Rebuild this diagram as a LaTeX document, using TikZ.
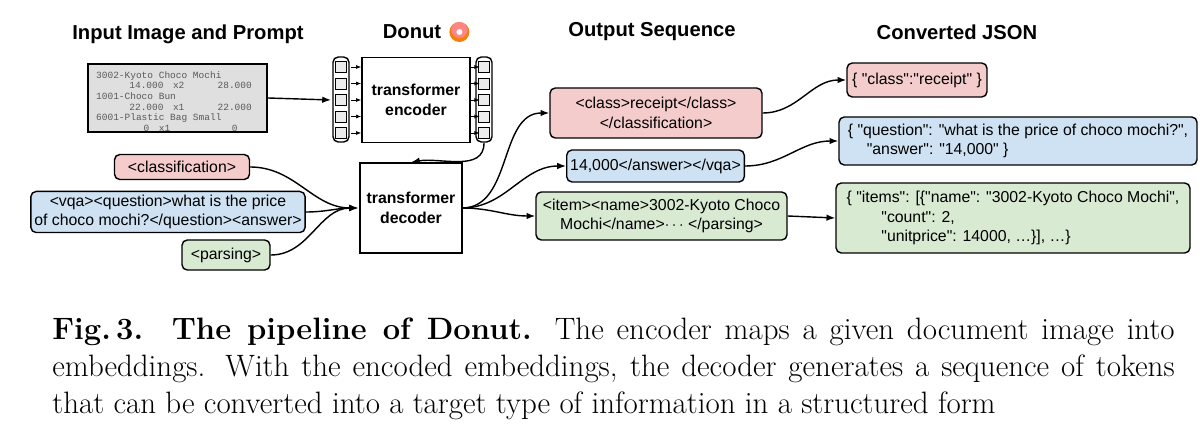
\documentclass[tikz,border=0pt]{standalone}
\usepackage{fontspec}
\setmainfont{Latin Modern Roman}
\newfontfamily\sans{Liberation Sans}
\newfontfamily\mono{Liberation Mono}
\usetikzlibrary{positioning,arrows.meta}
\definecolor{redbox}{HTML}{F4CCCC}
\definecolor{bluebox}{HTML}{CFE2F3}
\definecolor{greenbox}{HTML}{D9EAD3}
\tikzset{
  tag/.style={draw, thick, rounded corners=3pt, align=center, font=\sans\fontsize{9}{11}\selectfont, inner sep=2pt},
  title/.style={font=\sans\bfseries\fontsize{11.5}{13}\selectfont},
  blk/.style={draw, thick, fill=white, align=center, font=\sans\bfseries\fontsize{9}{11}\selectfont},
  flow/.style={thick, -{Latex[length=5pt]}},
}
\begin{document}
\begin{tikzpicture}[x=0.02cm, y=-0.02cm]
  \useasboundingbox (0,0) rectangle (1200,438);
  % Titles
  \node[title] (tin) at (188,34) {Input Image and Prompt};
  \node[title] (tdon) at (412,32) {Donut};
  \fill[orange!80!brown] (tdon.east) ++(12,0) circle (10);
  \fill[pink!70!red] (tdon.east) ++(12,-2) circle (8);
  \fill[white] (tdon.east) ++(12,0) circle (3);
  \node[title] (tout) at (652,32) {Output Sequence};
  \node[title] (tjson) at (957,32) {Converted JSON};

  % Receipt image
  \node[draw, very thick, fill=gray!25, minimum width=179*0.02cm, minimum height=68*0.02cm,
        inner sep=0pt] (img) at (177.5,98) {};
  \node[font=\mono\fontsize{5.4}{6.1}\selectfont, align=left, text=gray!70!black, anchor=north west]
    at (90,65) {3002-Kyoto Choco Mochi\\
    \hspace*{3.5em}14.000\quad x2\hspace{3.5em}28.000\\
    1001-Choco Bun\\
    \hspace*{3.5em}22.000\quad x1\hspace{3.5em}22.000\\
    6001-Plastic Bag Small\\
    \hspace*{5em}0\quad x1\hspace{6.5em}0};

  % Encoder
  \node[blk, minimum width=108*0.02cm, minimum height=85*0.02cm] (enc) at (416,100) {transformer\\encoder};
  \foreach \s/\x in {L/341, R/484} {
    \draw[thick, rounded corners=3pt, fill=white] (\x-8,57) rectangle (\x+8,142);
    \foreach \i in {0,...,4}
      \node[draw, fill=gray!15, minimum size=11*0.02cm, inner sep=0pt] (tok\s\i) at (\x,67+\i*16.5) {};
  }
  \foreach \i in {0,...,4} {
    \draw[-{Latex[length=3pt]}] (tokL\i.east) ++(4,0) -- (enc.west |- tokL\i);
    \draw[-{Latex[length=3pt]}] (enc.east |- tokR\i) -- ++(9,0);
  }
  \coordinate (colR) at (484,143);
  \draw[flow] (img.east) -- (tokL2.west -| 331,100);

  % Decoder
  \node[blk, minimum width=102*0.02cm, minimum height=90*0.02cm] (dec) at (411,208) {transformer\\decoder};
  \draw[flow] (colR) to[out=-90, in=10] (dec.north);

  % Prompts
  \node[tag, fill=redbox, minimum width=135*0.02cm, minimum height=25*0.02cm] (pcls) at (182,167) {<classification>};
  \node[tag, fill=bluebox, minimum width=267*0.02cm, minimum height=38*0.02cm] (pvqa) at (168,212) {<vqa><question>what is the price\\of choco mochi?</question><answer>};
  \node[tag, fill=greenbox, minimum width=88*0.02cm, minimum height=30*0.02cm] (ppar) at (226,255) {<parsing>};
  \coordinate (din) at (358,208);
  \draw[flow] (pcls.east) to[out=0, in=180] (din);
  \draw[flow] (pvqa.east) to[out=0, in=180] (din);
  \draw[flow] (ppar.east) to[out=0, in=180] (din);

  % Outputs
  \node[tag, fill=redbox, minimum width=212*0.02cm, minimum height=50*0.02cm] (ocls) at (656,113) {<class>receipt</class>\\</classification>};
  \node[tag, fill=bluebox, minimum width=177*0.02cm, minimum height=32*0.02cm] (ovqa) at (655.5,166) {14,000</answer></vqa>};
  \node[tag, fill=greenbox, minimum width=251*0.02cm, minimum height=48*0.02cm] (opar) at (661.5,216) {<item><name>3002-Kyoto Choco\\Mochi</name>$\cdots$ </parsing>};
  \coordinate (dout) at (462,208);
  \draw[flow] (dout) to[out=0, in=180] (ocls.west);
  \draw[flow] (dout) to[out=0, in=180] (ovqa.west);
  \draw[flow] (dout) to[out=0, in=180] (opar.west);

  % JSON
  \node[tag, fill=redbox, minimum width=140*0.02cm, minimum height=34*0.02cm] (jcls) at (917,80) {\{ "class":"receipt" \}};
  \node[tag, fill=bluebox, minimum width=358*0.02cm, minimum height=48*0.02cm] (jvqa) at (1018,141) {\{ "question": "what is the price of choco mochi?",\\\hspace*{1.2em}"answer": "14,000" \}\hfill\hbox{}};
  \node[tag, fill=greenbox, minimum width=354*0.02cm, minimum height=70*0.02cm, align=left] (jpar) at (1013,218) {\{ "items": [\{"name": "3002-Kyoto Choco Mochi",\\\hspace*{2.2em}"count": 2,\\\hspace*{2.2em}"unitprice": 14000, \dots\}], \dots \}};
  \draw[flow] (ocls.east) to[out=0, in=180] (jcls.west);
  \draw[flow] (ovqa.east) to[out=0, in=180] (jvqa.west);
  \draw[flow] (opar.east) -- (jpar.west);

  % Caption
  \node[anchor=north west, text width=22.45cm, align=justify, inner sep=0pt,
        font=\fontsize{17.6}{20.8}\selectfont] (cap) at (52,318)
    {\textbf{Fig.\,3. The pipeline of Donut.} The encoder maps a given document image into embeddings. With the encoded embeddings, the decoder generates a sequence of tokens that can be converted into a target type of information in a structured form};
\end{tikzpicture}
\end{document}
